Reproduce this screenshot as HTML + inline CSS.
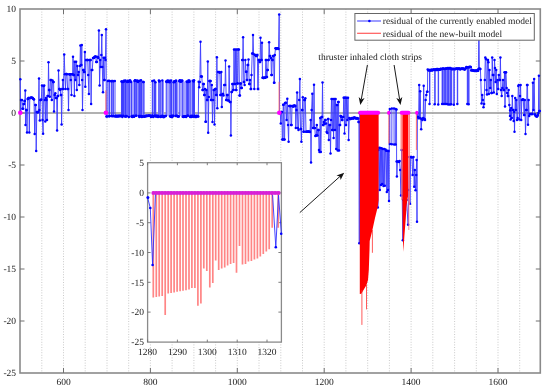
<!DOCTYPE html>
<html><head><meta charset="utf-8"><style>html,body{margin:0;padding:0;background:#fff;width:550px;height:391px;overflow:hidden}svg{display:block}text{text-rendering:geometricPrecision}</style></head>
<body>
<svg width="550" height="391" viewBox="0 0 550 391">
<rect width="550" height="391" fill="#fff"/>
<path d="M41.8 9.0V373.0M63.5 9.0V373.0M85.2 9.0V373.0M107 9.0V373.0M128.7 9.0V373.0M150.4 9.0V373.0M172.1 9.0V373.0M193.9 9.0V373.0M215.6 9.0V373.0M237.3 9.0V373.0M259 9.0V373.0M280.8 9.0V373.0M302.5 9.0V373.0M324.2 9.0V373.0M345.9 9.0V373.0M367.7 9.0V373.0M389.4 9.0V373.0M411.1 9.0V373.0M432.8 9.0V373.0M454.6 9.0V373.0M476.3 9.0V373.0M498 9.0V373.0M519.7 9.0V373.0" stroke="#bcbcbc" stroke-width="0.8" stroke-dasharray="1 1.6" fill="none"/>
<path d="M20.0 113.0H540.3" stroke="#979797" stroke-width="1.6"/>
<rect x="20.0" y="9.0" width="520.3" height="364.0" fill="none" stroke="#8a8a8a" stroke-width="1.6"/>
<path d="M63.5 373.0v-5M63.5 9.0v5M150.4 373.0v-5M150.4 9.0v5M237.3 373.0v-5M237.3 9.0v5M324.2 373.0v-5M324.2 9.0v5M411.1 373.0v-5M411.1 9.0v5M498 373.0v-5M498 9.0v5M20.0 61h4.5M540.3 61h-4.5M20.0 113h4.5M540.3 113h-4.5M20.0 165h4.5M540.3 165h-4.5M20.0 217h4.5M540.3 217h-4.5M20.0 269h4.5M540.3 269h-4.5M20.0 321h4.5M540.3 321h-4.5" stroke="#707070" stroke-width="1"/>
<g fill="#a4a4ff"><rect x="120.9" y="81.5" width="22.7" height="34.5"/><rect x="158" y="81.5" width="5.9" height="34.5"/><rect x="166.1" y="81.5" width="12.1" height="34.5"/><rect x="179.9" y="81.5" width="15.0" height="34.5"/></g>
<polyline points="20.3,79.2 20.6,111.8 21,100 22,100 22.4,108.8 23.1,108.8 23.5,104 24.1,104 24.5,101 24.9,101 25.3,90.4 25.5,124.9 26.2,110 26.6,110 27,132.5 27.6,99 28,99 28.4,98 28.9,98 29.3,132.5 29.8,98 30.6,98 31,97.5 31.8,97.5 32.2,98 32.8,98 33.2,99 33.6,99 34,99.6 34.7,134 35.3,105 35.8,105 36.2,150.9 36.8,112 37.3,112 37.7,112.6 38.3,112 39,78.5 39.4,110 39.8,120.5 40.4,100 40.9,100 41.3,99.5 42,85.6 42.5,120 43.1,133.7 43.6,86 44.2,85.6 44.8,100 45.3,121.4 45.9,98 46.5,100 47,120 47.5,96 48.1,96 48.5,62.2 49,90 49.4,90 49.8,96.8 50.5,80 51.2,80 51.8,100 52.5,80.5 53.2,82 53.6,82 54,111.4 54.6,95 55.3,93.2 55.9,98 56.7,98 57.1,130.5 57.6,96 58.1,96 58.5,70.4 59.2,89 59.8,89 60.2,90 60.8,95 61.2,95 61.6,124.6 62.2,89 62.9,80 63.5,89 64.2,54.6 64.9,74.3 65.5,89 66.2,74 66.6,74 67,74.3 67.6,89 68.1,89 68.5,110 69.2,74.3 69.6,74.3 70,74.3 70.4,74.3 70.8,80 71.5,95 71.9,74.3 72.6,74.3 73,56.7 73.6,75 74,75 74.4,95.9 74.7,61.7 75.4,80 76.1,61.7 76.8,90 77.4,66 78,75 78.7,72 79.3,85 80,66 80.4,45.5 81,65 81.4,65 81.8,45 82.1,80 82.5,110 83.2,70 83.6,70 84,72 84.5,72 84.9,52 85.3,86.8 86,60 87,60 87.4,60 87.8,60 88.2,75 88.9,94 89.5,60 90.2,60 90.7,60 91.1,104 91.6,70 92.3,70 93,58 94,58 94.4,57 94.8,57 95.2,56.5 95.8,56.5 96.2,62 96.9,62 97.3,57 97.9,57 98.3,58 98.9,30.6 99.6,85.6 100.2,60 100.8,67 101.3,55 101.8,35.1 102.3,67 103,92.3 103.6,57.7 104.2,80 104.6,80 105,57.7 105.5,60 106,29.2 106.4,116.5 107.2,116.5 107.8,116.5 107.8,81 108.8,80.8 109.1,80.8 109.1,116.3 109.4,116.3 109.6,116.3 109.6,81 111.1,81.2 111.3,81.2 111.3,116 111.6,116 111.8,116 111.8,80.9 112.7,81 112.9,81 112.9,116.2 113.2,116 113.4,116 113.4,81.3 114.8,81 115,81 115,116.4 115.4,116.1 115.8,115.8 116.3,116.6 116.7,115.7 117.1,116.4 117.6,116.1 118,115.7 118.4,116.4 118.9,115.7 119.3,116.3 119.7,115.7 120.2,115.7 120.6,116.2 121,115.8 121.5,115.8 121.5,81.6 121.9,81.5 122.4,81.5 122.4,117.1 122.8,117.1 122.8,82 123.2,82 123.2,115.8 123.7,115.8 123.7,80.9 124.1,80.7 124.5,81.6 125,81.6 125,116.4 125.4,116.4 125.4,80.4 125.8,80.4 125.8,116.6 126.3,116.1 126.7,116.3 127.1,116.3 127.1,81.9 127.6,80.8 128,81.4 128.4,81.8 128.9,81.8 128.9,117.1 129.3,117.1 129.3,81.1 129.7,80.6 130.2,80.4 130.6,81.8 131,82.1 131.5,82.1 131.5,116.6 131.9,116.5 132.3,116.9 132.8,116.3 133.2,115.7 133.6,116.6 134.1,116.8 134.5,116.8 134.5,81.1 135,80.3 135.4,80.6 135.8,80.6 135.8,115.7 136.3,115.8 136.7,115.8 136.7,81.1 137.1,80.5 137.6,81.4 138,81.9 138.4,80.9 138.9,80.9 138.9,116.1 139.3,117 139.7,117 139.7,80.7 140.2,80.7 140.2,116 140.6,116.5 141,116.5 141,80.3 141.5,80.3 141.5,116.2 141.9,117 142.3,116.4 142.8,116.6 143.2,116.6 143.2,82.1 143.6,82 144.1,82 144.1,116.8 144.5,116.2 144.9,116.2 145.4,115.8 145.8,116.6 146.2,115.7 146.7,115.7 147.1,115.9 147.6,115.8 148,116.1 148.4,115.7 148.9,115.6 149.3,115.8 149.7,115.8 150.2,116.1 150.6,115.6 151,116.9 151.5,116.5 151.9,115.8 152.3,115.8 152.3,81 152.8,81 152.8,115.8 153.2,117.1 153.6,116.3 154.1,116.3 154.1,80.5 154.5,80.5 154.5,116 154.9,115.8 155.4,115.8 155.4,82.2 155.8,82.2 155.8,116.4 156.2,115.8 156.7,116.4 157.1,115.6 157.5,116.4 158,116.9 158.4,116 158.9,116 158.9,80.6 159.3,81.4 159.7,81 160.2,81 160.2,116.8 160.6,116.9 161,116.8 161.5,115.9 161.9,116.1 162.3,116.1 162.3,80.4 162.8,80.4 162.8,116 163.2,117 163.6,117 164.1,117 164.5,116.1 164.9,115.9 165.4,115.9 165.8,115.9 166.2,115.9 166.2,81.5 166.7,82 167.1,81.6 167.5,80.5 168,82.1 168.4,81.8 168.8,80.7 169.3,81 169.7,82.2 170.1,82.2 170.1,116.2 170.6,116.7 171,116.7 171,80.6 171.5,80.6 171.5,117 171.9,115.8 172.3,117.1 172.8,116.1 173.2,115.8 173.6,115.8 173.6,82.2 174.1,81.4 174.5,81.2 174.9,82 175.4,82 175.4,116 175.8,116 175.8,80.8 176.2,80.8 176.7,80.8 176.7,115.8 177.1,116.1 177.5,116.5 178,116.2 178.4,116.4 178.8,116.4 179.3,116.4 179.3,81.2 179.7,80.3 180.1,80.6 180.6,81.8 181,81 181.4,81.4 181.9,80.5 182.3,80.8 182.7,80.8 182.7,116.8 183.2,116.4 183.6,117 184.1,116.5 184.5,116.4 184.9,116.3 185.4,116.3 185.8,116.6 186.2,117 186.7,117 186.7,81.4 187.1,82 187.5,82 187.5,115.8 188,115.7 188.4,115.7 188.4,80.4 188.8,81.9 189.3,80.6 189.7,81.6 190.1,81.6 190.1,116.9 190.6,115.9 191,116.2 191.4,117.1 191.9,115.8 192.3,116.4 192.7,116.4 192.7,80.7 193.2,80.7 193.2,116.7 193.6,116.7 193.6,81.4 194,80.3 194.5,80.3 194.5,116.5 194.9,115.7 195.3,117.1 195.8,116.8 196.2,117.1 196.7,115.8 197.1,116 197.8,116.5 198.3,116.5 198.7,81.8 199.2,87.3 199.8,82 200.5,41.8 201,76.4 201.4,76.4 201.8,76.4 202.5,90 202.9,90 203.3,84 203.8,84 204.2,95 204.6,95 205,89 205.5,121.8 205.9,121.8 206.3,90 207,100 207.4,100 207.8,61.5 208.2,132.7 208.8,97 209.4,81 209.8,81 210.2,80.9 210.6,80.9 211,100 211.4,100 211.8,85 212.5,122 213.1,100 213.7,90 214.1,90 214.5,124.5 215.2,89 215.6,89 216,95 216.5,95 216.9,57.3 217.3,108.2 218,72 219.1,72 219.5,72.5 219.9,72.5 220.3,95 220.9,95 221.3,72 221.8,107 222.5,94 223.1,94 223.5,95.5 224.2,85 225.1,85 225.5,60.4 226.2,100 226.6,100 227,95 227.6,95 228,100.5 228.7,100.5 229.1,66.4 229.8,102 230.5,102 230.9,135.5 231.5,92 231.9,92 232.3,84 232.8,84 233.2,90 233.6,90 234,49.5 234.6,84 235,84 235.4,49.5 236,90 236.4,90 236.8,49.5 237.4,83.6 237.8,83.6 238.2,49.5 238.9,49.5 239.5,95.5 239.9,95.5 240.3,83.6 240.8,83.6 241.2,88 241.8,88 242.2,60 242.7,60 243.1,37.3 243.8,82 244.2,82 244.6,85 245.3,60 246,71.8 246.4,71.8 246.8,80 247.2,80 247.6,65 248.1,65 248.5,59.6 249.2,84 249.6,84 250,80 250.6,89 251.1,89 251.5,75 252.2,53.6 252.6,53.6 253,34.9 253.6,54 254.3,89 255,55 255.6,55 256,56 256.6,56 257,55 257.4,55 257.8,89 258.2,89 258.6,60 259.2,60 259.6,62 260.1,62 260.5,37.8 261.2,60 261.6,60 262,42.7 262.5,77.7 262.9,77.7 263.3,78 263.8,78 264.2,77.7 264.6,77.7 265,77.7 265.4,77.7 265.8,60 266.2,60 266.6,77 267,77 267.4,70 267.8,70 268.2,60 268.7,60 269.1,42.2 269.8,56 270.2,56 270.6,58 271,58 271.4,75 271.8,75 272.2,60 272.6,60 273,56 273.6,56 274,82.7 274.4,82.7 274.8,55 275.5,48.2 275.9,48.2 276.3,49 277,48.2 277.4,48.2 277.8,48.2 278.5,49 279.2,14.4 279.6,113 280.3,113 280.8,123.6 281.5,112 281.9,112 282.3,139.4 282.8,139.4 283.2,104.7 283.6,104.7 284,139.4 284.6,139.4 285,103 285.5,103 285.9,102.7 286.6,120 287.3,98.7 288,125 288.6,141.8 289.2,106 289.8,106 290.2,106 290.6,106 291,125 291.6,125 292,106 292.6,106 293,106.5 293.6,106.5 294,105.5 294.6,105.5 295,106 295.4,106 295.8,128 296.5,110 297.1,92.5 297.8,128 298.5,130 299.2,100 299.9,78.9 300.5,129 301,129 301.4,141.8 302,110 302.4,110 302.8,97.2 303.5,131.8 303.9,131.8 304.3,100 304.9,100 305.3,98.2 306,131.8 306.6,131.8 307,131.8 307.6,131.8 308,131.5 308.6,131.5 309,131.8 309.6,131.8 310,132 310.6,120 311,162.4 311.6,110 312.3,93.8 313,128 313.6,128 314,84.8 314.5,128 314.9,128 315.3,136 316,135.5 316.4,135.5 316.8,125 317.5,135.5 318.2,130 318.6,130 319,150 319.5,152 320.2,118 320.8,152 321.5,117 322.1,117 322.5,82.6 323,125 323.4,125 323.8,122 324.5,124 325.2,120 325.6,120 326,123.5 326.6,132 327.3,133 328,119 328.4,119 328.8,140 329.5,125 330.1,125 330.5,153.6 331,120 331.5,99 332.2,130 332.6,130 333,99 333.6,138 334.3,99 335,130 335.6,99 336.2,149 336.8,105 337.3,105 337.7,150.5 338.2,102 338.6,102 339,150.5 339.6,125 340.1,125 340.5,116 340.9,116 341.3,117 342,120 342.4,120 342.8,117 343.3,117 343.7,97.7 344.1,97.7 344.5,133.6 345.2,97.7 345.6,97.7 346,125 346.6,97.7 347.3,120 348,97.8 348.6,140 349.3,118 350,119 350.6,119 351,118.5 351.6,118.5 352,118 352.6,118 353,118.5 353.6,118.5 354,117.5 354.6,117.5 355,118 355.6,118 356,118.5 356.6,118.5 357,118 357.7,118.5 358.1,118.5 358.5,122 358.9,122 359.3,243.3 359.6,113 360,113 377.6,113 377.8,207.5 378.4,150 379.2,147.8 379.8,190 380.4,148 381,185 381.6,148.3 382.2,184 382.8,149 383.5,186 384.2,149 384.8,185.8 385.5,149.5 386.2,150.8 386.8,192 387.4,150.8 388,190 388.6,151 389,201 389.4,113 389.8,109 389.9,144 391.8,144.3 391.9,108.6 394,108.4 394.1,144.5 395.6,144.5 395.7,109 396.5,109.5 396.6,161.5 396.9,176.5 397.4,161.5 398.2,161.5 399,162 399.6,161 400.2,170 401,195.6 401.6,150 402.8,240.3 403.5,200 405,210 406.5,200 408.1,224.7 408.8,190 409.4,157 410,203.7 410.6,157 411.3,157 412,157.5 412.6,175 413.5,157 414.2,186.7 414.8,170 415.5,190.3 416.2,175 416.6,160 417,221.8 417.4,113 418,117 418.6,118.3 419.2,85 419.6,118 420.2,91.3 420.7,118.5 421.2,129.2 421.8,119 422.5,120 423.2,118 423.7,85.8 424.2,119 424.6,119 425,120 425.6,100 426.3,95 427,91.7 427.5,91.7 427.7,69.5 428.2,69.9 428.6,70.6 429.1,70 429.5,70 429.5,104 429.9,104 429.9,70.1 430.4,70.5 430.8,70.4 431.2,69.8 431.7,69.7 432.1,70.4 432.5,70 433,70.1 433.4,69.4 433.8,69.4 434.3,70 434.7,70 434.7,104.2 435.2,104.2 435.2,69.3 435.6,70.1 436,69.7 436.5,69.9 436.9,69.1 437.3,69.9 437.8,69 438.2,69 438.2,104.6 438.6,104.6 438.6,69.3 439.1,69.2 439.5,69.4 439.9,69.7 440.4,69 440.8,68.8 441.2,69.2 441.7,68.9 442.1,68.9 442.1,104 442.5,104 442.5,68.7 443,68.5 443.4,68.7 443.8,68.7 443.8,104.1 444.3,104.1 444.3,68.7 444.7,69.1 445.1,69.1 445.1,104.1 445.6,104.1 445.6,68.8 446,68.4 446.4,68.5 446.9,68.5 446.9,103.9 447.3,103.9 447.3,68.4 447.8,68.1 448.2,68.1 448.2,104.5 448.6,104.5 448.6,68.5 449.1,68.1 449.5,68.4 449.9,68.4 449.9,104.6 450.4,104.6 450.4,67.9 450.8,68.6 451.2,68.6 451.2,104.2 451.7,104.2 451.7,68.9 452.1,69.2 452.5,68.8 453,68.9 453.4,69.1 453.8,69.1 453.8,104.7 454.3,104.7 454.3,68.7 454.7,69.2 455.1,69.1 455.6,69 456,68.8 456.4,68.7 456.9,68.5 457.3,68.5 457.3,104 457.7,104 457.7,68.5 458.2,69.1 458.6,68.7 459,68.6 459.5,68.5 459.9,69.2 460.4,69.3 460.8,69.1 461.2,68.7 461.7,68.6 462.1,68.7 462.5,68.9 463,68.6 463.4,68.8 463.8,68.7 464.3,69.4 464.7,69.4 465.1,68.9 465.6,68.6 466,67.8 466.4,67.1 466.9,67.2 467.3,67.2 467.3,103.9 467.7,103.9 467.7,67.2 468.2,67.3 468.6,67.3 468.6,104.3 469,104.3 469,67 469.5,67.3 469.9,66.8 470.3,67.1 470.8,66.9 471.2,66.9 471.2,70.5 471.7,70.1 472.1,70.1 472.5,70.4 473,70.3 473.4,70.7 473.8,70.6 474.3,70.9 474.7,70.8 475.1,70.8 475.6,71 476,70.5 476.4,70.4 476.9,71.1 477.3,70.2 477.7,70.8 478.2,70.7 478.4,69 478.9,20 479.4,68.5 480,69 480.4,69 480.8,80 481.5,103.4 482.2,95 482.8,100 483.5,107.2 484.1,104 484.8,80 485.3,57.6 485.9,59 486.5,90 487,94.5 487.6,60 488,60 488.4,62.2 488.9,94 489.5,70 490.2,88 490.8,80 491.4,93 491.8,93 492.2,57.6 492.8,75 493.4,75 493.8,92.6 494.5,60 495,68 495.6,82 496.2,70 496.8,94 497.5,80 498.2,89 498.8,75 499.5,80 500,80 500.4,57.6 501,90 501.7,96 502.3,88 503,80 503.6,90 504.1,90 504.5,72.2 505,106.4 505.5,72.5 506,72.2 506.6,88 507.2,93 507.8,96 508.2,96 508.6,90 509.3,105 510,116 510.2,110.3 510.6,119.5 511.2,108 511.8,118 512.3,96 512.8,110 513.3,110 513.7,121 514.2,112 514.5,131.7 515.2,98 515.8,110 516.3,100 517,120 517.6,118 518.3,86 518.8,85 519.4,119.5 520,96 520.6,85 521.2,120 521.8,100 522.5,99.5 522.9,99.5 523.3,99.5 524,115 524.4,115 524.8,100 525.5,134 526.2,110 526.6,110 527,85 527.5,85 528,124.8 528.6,100 529.2,116 529.8,114.1 530.5,114 531.2,114 531.6,114 532,114.1 532.5,114.1 532.9,82.7 533.5,110 534.1,79 534.8,114.5 535.2,114.5 535.6,116 536.1,116 536.5,116.4 537,116.4 537.4,116 537.9,115 538.4,113 538.9,75.7 539.3,111 539.8,111" fill="none" stroke="#3a3aff" stroke-width="0.9" stroke-linejoin="round"/>
<g fill="#0000ff"><circle cx="20.3" cy="79.2" r="1.25"/><circle cx="20.6" cy="111.8" r="1.25"/><circle cx="21" cy="100" r="1.25"/><circle cx="22" cy="100" r="1.25"/><circle cx="22.4" cy="108.8" r="1.25"/><circle cx="23.1" cy="108.8" r="1.25"/><circle cx="23.5" cy="104" r="1.25"/><circle cx="24.1" cy="104" r="1.25"/><circle cx="24.5" cy="101" r="1.25"/><circle cx="24.9" cy="101" r="1.25"/><circle cx="25.3" cy="90.4" r="1.25"/><circle cx="25.5" cy="124.9" r="1.25"/><circle cx="26.2" cy="110" r="1.25"/><circle cx="26.6" cy="110" r="1.25"/><circle cx="27" cy="132.5" r="1.25"/><circle cx="27.6" cy="99" r="1.25"/><circle cx="28" cy="99" r="1.25"/><circle cx="28.4" cy="98" r="1.25"/><circle cx="28.9" cy="98" r="1.25"/><circle cx="29.3" cy="132.5" r="1.25"/><circle cx="29.8" cy="98" r="1.25"/><circle cx="30.6" cy="98" r="1.25"/><circle cx="31" cy="97.5" r="1.25"/><circle cx="31.8" cy="97.5" r="1.25"/><circle cx="32.2" cy="98" r="1.25"/><circle cx="32.8" cy="98" r="1.25"/><circle cx="33.2" cy="99" r="1.25"/><circle cx="33.6" cy="99" r="1.25"/><circle cx="34" cy="99.6" r="1.25"/><circle cx="34.7" cy="134" r="1.25"/><circle cx="35.3" cy="105" r="1.25"/><circle cx="35.8" cy="105" r="1.25"/><circle cx="36.2" cy="150.9" r="1.25"/><circle cx="36.8" cy="112" r="1.25"/><circle cx="37.3" cy="112" r="1.25"/><circle cx="37.7" cy="112.6" r="1.25"/><circle cx="38.3" cy="112" r="1.25"/><circle cx="39" cy="78.5" r="1.25"/><circle cx="39.4" cy="110" r="1.25"/><circle cx="39.8" cy="120.5" r="1.25"/><circle cx="40.4" cy="100" r="1.25"/><circle cx="40.9" cy="100" r="1.25"/><circle cx="41.3" cy="99.5" r="1.25"/><circle cx="42" cy="85.6" r="1.25"/><circle cx="42.5" cy="120" r="1.25"/><circle cx="43.1" cy="133.7" r="1.25"/><circle cx="43.6" cy="86" r="1.25"/><circle cx="44.2" cy="85.6" r="1.25"/><circle cx="44.8" cy="100" r="1.25"/><circle cx="45.3" cy="121.4" r="1.25"/><circle cx="45.9" cy="98" r="1.25"/><circle cx="46.5" cy="100" r="1.25"/><circle cx="47" cy="120" r="1.25"/><circle cx="47.5" cy="96" r="1.25"/><circle cx="48.1" cy="96" r="1.25"/><circle cx="48.5" cy="62.2" r="1.25"/><circle cx="49" cy="90" r="1.25"/><circle cx="49.4" cy="90" r="1.25"/><circle cx="49.8" cy="96.8" r="1.25"/><circle cx="50.5" cy="80" r="1.25"/><circle cx="51.2" cy="80" r="1.25"/><circle cx="51.8" cy="100" r="1.25"/><circle cx="52.5" cy="80.5" r="1.25"/><circle cx="53.2" cy="82" r="1.25"/><circle cx="53.6" cy="82" r="1.25"/><circle cx="54" cy="111.4" r="1.25"/><circle cx="54.6" cy="95" r="1.25"/><circle cx="55.3" cy="93.2" r="1.25"/><circle cx="55.9" cy="98" r="1.25"/><circle cx="56.7" cy="98" r="1.25"/><circle cx="57.1" cy="130.5" r="1.25"/><circle cx="57.6" cy="96" r="1.25"/><circle cx="58.1" cy="96" r="1.25"/><circle cx="58.5" cy="70.4" r="1.25"/><circle cx="59.2" cy="89" r="1.25"/><circle cx="59.8" cy="89" r="1.25"/><circle cx="60.2" cy="90" r="1.25"/><circle cx="60.8" cy="95" r="1.25"/><circle cx="61.2" cy="95" r="1.25"/><circle cx="61.6" cy="124.6" r="1.25"/><circle cx="62.2" cy="89" r="1.25"/><circle cx="62.9" cy="80" r="1.25"/><circle cx="63.5" cy="89" r="1.25"/><circle cx="64.2" cy="54.6" r="1.25"/><circle cx="64.9" cy="74.3" r="1.25"/><circle cx="65.5" cy="89" r="1.25"/><circle cx="66.2" cy="74" r="1.25"/><circle cx="66.6" cy="74" r="1.25"/><circle cx="67" cy="74.3" r="1.25"/><circle cx="67.6" cy="89" r="1.25"/><circle cx="68.1" cy="89" r="1.25"/><circle cx="68.5" cy="110" r="1.25"/><circle cx="69.2" cy="74.3" r="1.25"/><circle cx="69.6" cy="74.3" r="1.25"/><circle cx="70" cy="74.3" r="1.25"/><circle cx="70.4" cy="74.3" r="1.25"/><circle cx="70.8" cy="80" r="1.25"/><circle cx="71.5" cy="95" r="1.25"/><circle cx="71.9" cy="74.3" r="1.25"/><circle cx="72.6" cy="74.3" r="1.25"/><circle cx="73" cy="56.7" r="1.25"/><circle cx="73.6" cy="75" r="1.25"/><circle cx="74" cy="75" r="1.25"/><circle cx="74.4" cy="95.9" r="1.25"/><circle cx="74.7" cy="61.7" r="1.25"/><circle cx="75.4" cy="80" r="1.25"/><circle cx="76.1" cy="61.7" r="1.25"/><circle cx="76.8" cy="90" r="1.25"/><circle cx="77.4" cy="66" r="1.25"/><circle cx="78" cy="75" r="1.25"/><circle cx="78.7" cy="72" r="1.25"/><circle cx="79.3" cy="85" r="1.25"/><circle cx="80" cy="66" r="1.25"/><circle cx="80.4" cy="45.5" r="1.25"/><circle cx="81" cy="65" r="1.25"/><circle cx="81.4" cy="65" r="1.25"/><circle cx="81.8" cy="45" r="1.25"/><circle cx="82.1" cy="80" r="1.25"/><circle cx="82.5" cy="110" r="1.25"/><circle cx="83.2" cy="70" r="1.25"/><circle cx="83.6" cy="70" r="1.25"/><circle cx="84" cy="72" r="1.25"/><circle cx="84.5" cy="72" r="1.25"/><circle cx="84.9" cy="52" r="1.25"/><circle cx="85.3" cy="86.8" r="1.25"/><circle cx="86" cy="60" r="1.25"/><circle cx="87" cy="60" r="1.25"/><circle cx="87.4" cy="60" r="1.25"/><circle cx="87.8" cy="60" r="1.25"/><circle cx="88.2" cy="75" r="1.25"/><circle cx="88.9" cy="94" r="1.25"/><circle cx="89.5" cy="60" r="1.25"/><circle cx="90.2" cy="60" r="1.25"/><circle cx="90.7" cy="60" r="1.25"/><circle cx="91.1" cy="104" r="1.25"/><circle cx="91.6" cy="70" r="1.25"/><circle cx="92.3" cy="70" r="1.25"/><circle cx="93" cy="58" r="1.25"/><circle cx="94" cy="58" r="1.25"/><circle cx="94.4" cy="57" r="1.25"/><circle cx="94.8" cy="57" r="1.25"/><circle cx="95.2" cy="56.5" r="1.25"/><circle cx="95.8" cy="56.5" r="1.25"/><circle cx="96.2" cy="62" r="1.25"/><circle cx="96.9" cy="62" r="1.25"/><circle cx="97.3" cy="57" r="1.25"/><circle cx="97.9" cy="57" r="1.25"/><circle cx="98.3" cy="58" r="1.25"/><circle cx="98.9" cy="30.6" r="1.25"/><circle cx="99.6" cy="85.6" r="1.25"/><circle cx="100.2" cy="60" r="1.25"/><circle cx="100.8" cy="67" r="1.25"/><circle cx="101.3" cy="55" r="1.25"/><circle cx="101.8" cy="35.1" r="1.25"/><circle cx="102.3" cy="67" r="1.25"/><circle cx="103" cy="92.3" r="1.25"/><circle cx="103.6" cy="57.7" r="1.25"/><circle cx="104.2" cy="80" r="1.25"/><circle cx="104.6" cy="80" r="1.25"/><circle cx="105" cy="57.7" r="1.25"/><circle cx="105.5" cy="60" r="1.25"/><circle cx="106" cy="29.2" r="1.25"/><circle cx="106.4" cy="116.5" r="1.25"/><circle cx="107.2" cy="116.5" r="1.25"/><circle cx="107.8" cy="81" r="1.25"/><circle cx="108.8" cy="80.8" r="1.25"/><circle cx="109.1" cy="116.3" r="1.25"/><circle cx="109.4" cy="116.3" r="1.25"/><circle cx="109.6" cy="81" r="1.25"/><circle cx="111.1" cy="81.2" r="1.25"/><circle cx="111.3" cy="116" r="1.25"/><circle cx="111.6" cy="116" r="1.25"/><circle cx="111.8" cy="80.9" r="1.25"/><circle cx="112.7" cy="81" r="1.25"/><circle cx="112.9" cy="116.2" r="1.25"/><circle cx="113.2" cy="116" r="1.25"/><circle cx="113.4" cy="81.3" r="1.25"/><circle cx="114.8" cy="81" r="1.25"/><circle cx="115" cy="116.4" r="1.25"/><circle cx="115.4" cy="116.1" r="1.25"/><circle cx="115.8" cy="115.8" r="1.25"/><circle cx="116.3" cy="116.6" r="1.25"/><circle cx="116.7" cy="115.7" r="1.25"/><circle cx="117.1" cy="116.4" r="1.25"/><circle cx="117.6" cy="116.1" r="1.25"/><circle cx="118" cy="115.7" r="1.25"/><circle cx="118.4" cy="116.4" r="1.25"/><circle cx="118.9" cy="115.7" r="1.25"/><circle cx="119.3" cy="116.3" r="1.25"/><circle cx="119.7" cy="115.7" r="1.25"/><circle cx="120.2" cy="115.7" r="1.25"/><circle cx="120.6" cy="116.2" r="1.25"/><circle cx="121" cy="115.8" r="1.25"/><circle cx="121.5" cy="81.6" r="1.25"/><circle cx="121.9" cy="81.5" r="1.25"/><circle cx="122.4" cy="117.1" r="1.25"/><circle cx="122.8" cy="82" r="1.25"/><circle cx="123.2" cy="115.8" r="1.25"/><circle cx="123.7" cy="80.9" r="1.25"/><circle cx="124.1" cy="80.7" r="1.25"/><circle cx="124.5" cy="81.6" r="1.25"/><circle cx="125" cy="116.4" r="1.25"/><circle cx="125.4" cy="80.4" r="1.25"/><circle cx="125.8" cy="116.6" r="1.25"/><circle cx="126.3" cy="116.1" r="1.25"/><circle cx="126.7" cy="116.3" r="1.25"/><circle cx="127.1" cy="81.9" r="1.25"/><circle cx="127.6" cy="80.8" r="1.25"/><circle cx="128" cy="81.4" r="1.25"/><circle cx="128.4" cy="81.8" r="1.25"/><circle cx="128.9" cy="117.1" r="1.25"/><circle cx="129.3" cy="81.1" r="1.25"/><circle cx="129.7" cy="80.6" r="1.25"/><circle cx="130.2" cy="80.4" r="1.25"/><circle cx="130.6" cy="81.8" r="1.25"/><circle cx="131" cy="82.1" r="1.25"/><circle cx="131.5" cy="116.6" r="1.25"/><circle cx="131.9" cy="116.5" r="1.25"/><circle cx="132.3" cy="116.9" r="1.25"/><circle cx="132.8" cy="116.3" r="1.25"/><circle cx="133.2" cy="115.7" r="1.25"/><circle cx="133.6" cy="116.6" r="1.25"/><circle cx="134.1" cy="116.8" r="1.25"/><circle cx="134.5" cy="81.1" r="1.25"/><circle cx="135" cy="80.3" r="1.25"/><circle cx="135.4" cy="80.6" r="1.25"/><circle cx="135.8" cy="115.7" r="1.25"/><circle cx="136.3" cy="115.8" r="1.25"/><circle cx="136.7" cy="81.1" r="1.25"/><circle cx="137.1" cy="80.5" r="1.25"/><circle cx="137.6" cy="81.4" r="1.25"/><circle cx="138" cy="81.9" r="1.25"/><circle cx="138.4" cy="80.9" r="1.25"/><circle cx="138.9" cy="116.1" r="1.25"/><circle cx="139.3" cy="117" r="1.25"/><circle cx="139.7" cy="80.7" r="1.25"/><circle cx="140.2" cy="116" r="1.25"/><circle cx="140.6" cy="116.5" r="1.25"/><circle cx="141" cy="80.3" r="1.25"/><circle cx="141.5" cy="116.2" r="1.25"/><circle cx="141.9" cy="117" r="1.25"/><circle cx="142.3" cy="116.4" r="1.25"/><circle cx="142.8" cy="116.6" r="1.25"/><circle cx="143.2" cy="82.1" r="1.25"/><circle cx="143.6" cy="82" r="1.25"/><circle cx="144.1" cy="116.8" r="1.25"/><circle cx="144.5" cy="116.2" r="1.25"/><circle cx="144.9" cy="116.2" r="1.25"/><circle cx="145.4" cy="115.8" r="1.25"/><circle cx="145.8" cy="116.6" r="1.25"/><circle cx="146.2" cy="115.7" r="1.25"/><circle cx="146.7" cy="115.7" r="1.25"/><circle cx="147.1" cy="115.9" r="1.25"/><circle cx="147.6" cy="115.8" r="1.25"/><circle cx="148" cy="116.1" r="1.25"/><circle cx="148.4" cy="115.7" r="1.25"/><circle cx="148.9" cy="115.6" r="1.25"/><circle cx="149.3" cy="115.8" r="1.25"/><circle cx="149.7" cy="115.8" r="1.25"/><circle cx="150.2" cy="116.1" r="1.25"/><circle cx="150.6" cy="115.6" r="1.25"/><circle cx="151" cy="116.9" r="1.25"/><circle cx="151.5" cy="116.5" r="1.25"/><circle cx="151.9" cy="115.8" r="1.25"/><circle cx="152.3" cy="81" r="1.25"/><circle cx="152.8" cy="115.8" r="1.25"/><circle cx="153.2" cy="117.1" r="1.25"/><circle cx="153.6" cy="116.3" r="1.25"/><circle cx="154.1" cy="80.5" r="1.25"/><circle cx="154.5" cy="116" r="1.25"/><circle cx="154.9" cy="115.8" r="1.25"/><circle cx="155.4" cy="82.2" r="1.25"/><circle cx="155.8" cy="116.4" r="1.25"/><circle cx="156.2" cy="115.8" r="1.25"/><circle cx="156.7" cy="116.4" r="1.25"/><circle cx="157.1" cy="115.6" r="1.25"/><circle cx="157.5" cy="116.4" r="1.25"/><circle cx="158" cy="116.9" r="1.25"/><circle cx="158.4" cy="116" r="1.25"/><circle cx="158.9" cy="80.6" r="1.25"/><circle cx="159.3" cy="81.4" r="1.25"/><circle cx="159.7" cy="81" r="1.25"/><circle cx="160.2" cy="116.8" r="1.25"/><circle cx="160.6" cy="116.9" r="1.25"/><circle cx="161" cy="116.8" r="1.25"/><circle cx="161.5" cy="115.9" r="1.25"/><circle cx="161.9" cy="116.1" r="1.25"/><circle cx="162.3" cy="80.4" r="1.25"/><circle cx="162.8" cy="116" r="1.25"/><circle cx="163.2" cy="117" r="1.25"/><circle cx="163.6" cy="117" r="1.25"/><circle cx="164.1" cy="117" r="1.25"/><circle cx="164.5" cy="116.1" r="1.25"/><circle cx="164.9" cy="115.9" r="1.25"/><circle cx="165.4" cy="115.9" r="1.25"/><circle cx="165.8" cy="115.9" r="1.25"/><circle cx="166.2" cy="81.5" r="1.25"/><circle cx="166.7" cy="82" r="1.25"/><circle cx="167.1" cy="81.6" r="1.25"/><circle cx="167.5" cy="80.5" r="1.25"/><circle cx="168" cy="82.1" r="1.25"/><circle cx="168.4" cy="81.8" r="1.25"/><circle cx="168.8" cy="80.7" r="1.25"/><circle cx="169.3" cy="81" r="1.25"/><circle cx="169.7" cy="82.2" r="1.25"/><circle cx="170.1" cy="116.2" r="1.25"/><circle cx="170.6" cy="116.7" r="1.25"/><circle cx="171" cy="80.6" r="1.25"/><circle cx="171.5" cy="117" r="1.25"/><circle cx="171.9" cy="115.8" r="1.25"/><circle cx="172.3" cy="117.1" r="1.25"/><circle cx="172.8" cy="116.1" r="1.25"/><circle cx="173.2" cy="115.8" r="1.25"/><circle cx="173.6" cy="82.2" r="1.25"/><circle cx="174.1" cy="81.4" r="1.25"/><circle cx="174.5" cy="81.2" r="1.25"/><circle cx="174.9" cy="82" r="1.25"/><circle cx="175.4" cy="116" r="1.25"/><circle cx="175.8" cy="80.8" r="1.25"/><circle cx="176.2" cy="80.8" r="1.25"/><circle cx="176.7" cy="115.8" r="1.25"/><circle cx="177.1" cy="116.1" r="1.25"/><circle cx="177.5" cy="116.5" r="1.25"/><circle cx="178" cy="116.2" r="1.25"/><circle cx="178.4" cy="116.4" r="1.25"/><circle cx="178.8" cy="116.4" r="1.25"/><circle cx="179.3" cy="81.2" r="1.25"/><circle cx="179.7" cy="80.3" r="1.25"/><circle cx="180.1" cy="80.6" r="1.25"/><circle cx="180.6" cy="81.8" r="1.25"/><circle cx="181" cy="81" r="1.25"/><circle cx="181.4" cy="81.4" r="1.25"/><circle cx="181.9" cy="80.5" r="1.25"/><circle cx="182.3" cy="80.8" r="1.25"/><circle cx="182.7" cy="116.8" r="1.25"/><circle cx="183.2" cy="116.4" r="1.25"/><circle cx="183.6" cy="117" r="1.25"/><circle cx="184.1" cy="116.5" r="1.25"/><circle cx="184.5" cy="116.4" r="1.25"/><circle cx="184.9" cy="116.3" r="1.25"/><circle cx="185.4" cy="116.3" r="1.25"/><circle cx="185.8" cy="116.6" r="1.25"/><circle cx="186.2" cy="117" r="1.25"/><circle cx="186.7" cy="81.4" r="1.25"/><circle cx="187.1" cy="82" r="1.25"/><circle cx="187.5" cy="115.8" r="1.25"/><circle cx="188" cy="115.7" r="1.25"/><circle cx="188.4" cy="80.4" r="1.25"/><circle cx="188.8" cy="81.9" r="1.25"/><circle cx="189.3" cy="80.6" r="1.25"/><circle cx="189.7" cy="81.6" r="1.25"/><circle cx="190.1" cy="116.9" r="1.25"/><circle cx="190.6" cy="115.9" r="1.25"/><circle cx="191" cy="116.2" r="1.25"/><circle cx="191.4" cy="117.1" r="1.25"/><circle cx="191.9" cy="115.8" r="1.25"/><circle cx="192.3" cy="116.4" r="1.25"/><circle cx="192.7" cy="80.7" r="1.25"/><circle cx="193.2" cy="116.7" r="1.25"/><circle cx="193.6" cy="81.4" r="1.25"/><circle cx="194" cy="80.3" r="1.25"/><circle cx="194.5" cy="116.5" r="1.25"/><circle cx="194.9" cy="115.7" r="1.25"/><circle cx="195.3" cy="117.1" r="1.25"/><circle cx="195.8" cy="116.8" r="1.25"/><circle cx="196.2" cy="117.1" r="1.25"/><circle cx="196.7" cy="115.8" r="1.25"/><circle cx="197.1" cy="116" r="1.25"/><circle cx="197.8" cy="116.5" r="1.25"/><circle cx="198.3" cy="116.5" r="1.25"/><circle cx="198.7" cy="81.8" r="1.25"/><circle cx="199.2" cy="87.3" r="1.25"/><circle cx="199.8" cy="82" r="1.25"/><circle cx="200.5" cy="41.8" r="1.25"/><circle cx="201" cy="76.4" r="1.25"/><circle cx="201.4" cy="76.4" r="1.25"/><circle cx="201.8" cy="76.4" r="1.25"/><circle cx="202.5" cy="90" r="1.25"/><circle cx="202.9" cy="90" r="1.25"/><circle cx="203.3" cy="84" r="1.25"/><circle cx="203.8" cy="84" r="1.25"/><circle cx="204.2" cy="95" r="1.25"/><circle cx="204.6" cy="95" r="1.25"/><circle cx="205" cy="89" r="1.25"/><circle cx="205.5" cy="121.8" r="1.25"/><circle cx="205.9" cy="121.8" r="1.25"/><circle cx="206.3" cy="90" r="1.25"/><circle cx="207" cy="100" r="1.25"/><circle cx="207.4" cy="100" r="1.25"/><circle cx="207.8" cy="61.5" r="1.25"/><circle cx="208.2" cy="132.7" r="1.25"/><circle cx="208.8" cy="97" r="1.25"/><circle cx="209.4" cy="81" r="1.25"/><circle cx="209.8" cy="81" r="1.25"/><circle cx="210.2" cy="80.9" r="1.25"/><circle cx="210.6" cy="80.9" r="1.25"/><circle cx="211" cy="100" r="1.25"/><circle cx="211.4" cy="100" r="1.25"/><circle cx="211.8" cy="85" r="1.25"/><circle cx="212.5" cy="122" r="1.25"/><circle cx="213.1" cy="100" r="1.25"/><circle cx="213.7" cy="90" r="1.25"/><circle cx="214.1" cy="90" r="1.25"/><circle cx="214.5" cy="124.5" r="1.25"/><circle cx="215.2" cy="89" r="1.25"/><circle cx="215.6" cy="89" r="1.25"/><circle cx="216" cy="95" r="1.25"/><circle cx="216.5" cy="95" r="1.25"/><circle cx="216.9" cy="57.3" r="1.25"/><circle cx="217.3" cy="108.2" r="1.25"/><circle cx="218" cy="72" r="1.25"/><circle cx="219.1" cy="72" r="1.25"/><circle cx="219.5" cy="72.5" r="1.25"/><circle cx="219.9" cy="72.5" r="1.25"/><circle cx="220.3" cy="95" r="1.25"/><circle cx="220.9" cy="95" r="1.25"/><circle cx="221.3" cy="72" r="1.25"/><circle cx="221.8" cy="107" r="1.25"/><circle cx="222.5" cy="94" r="1.25"/><circle cx="223.1" cy="94" r="1.25"/><circle cx="223.5" cy="95.5" r="1.25"/><circle cx="224.2" cy="85" r="1.25"/><circle cx="225.1" cy="85" r="1.25"/><circle cx="225.5" cy="60.4" r="1.25"/><circle cx="226.2" cy="100" r="1.25"/><circle cx="226.6" cy="100" r="1.25"/><circle cx="227" cy="95" r="1.25"/><circle cx="227.6" cy="95" r="1.25"/><circle cx="228" cy="100.5" r="1.25"/><circle cx="228.7" cy="100.5" r="1.25"/><circle cx="229.1" cy="66.4" r="1.25"/><circle cx="229.8" cy="102" r="1.25"/><circle cx="230.5" cy="102" r="1.25"/><circle cx="230.9" cy="135.5" r="1.25"/><circle cx="231.5" cy="92" r="1.25"/><circle cx="231.9" cy="92" r="1.25"/><circle cx="232.3" cy="84" r="1.25"/><circle cx="232.8" cy="84" r="1.25"/><circle cx="233.2" cy="90" r="1.25"/><circle cx="233.6" cy="90" r="1.25"/><circle cx="234" cy="49.5" r="1.25"/><circle cx="234.6" cy="84" r="1.25"/><circle cx="235" cy="84" r="1.25"/><circle cx="235.4" cy="49.5" r="1.25"/><circle cx="236" cy="90" r="1.25"/><circle cx="236.4" cy="90" r="1.25"/><circle cx="236.8" cy="49.5" r="1.25"/><circle cx="237.4" cy="83.6" r="1.25"/><circle cx="237.8" cy="83.6" r="1.25"/><circle cx="238.2" cy="49.5" r="1.25"/><circle cx="238.9" cy="49.5" r="1.25"/><circle cx="239.5" cy="95.5" r="1.25"/><circle cx="239.9" cy="95.5" r="1.25"/><circle cx="240.3" cy="83.6" r="1.25"/><circle cx="240.8" cy="83.6" r="1.25"/><circle cx="241.2" cy="88" r="1.25"/><circle cx="241.8" cy="88" r="1.25"/><circle cx="242.2" cy="60" r="1.25"/><circle cx="242.7" cy="60" r="1.25"/><circle cx="243.1" cy="37.3" r="1.25"/><circle cx="243.8" cy="82" r="1.25"/><circle cx="244.2" cy="82" r="1.25"/><circle cx="244.6" cy="85" r="1.25"/><circle cx="245.3" cy="60" r="1.25"/><circle cx="246" cy="71.8" r="1.25"/><circle cx="246.4" cy="71.8" r="1.25"/><circle cx="246.8" cy="80" r="1.25"/><circle cx="247.2" cy="80" r="1.25"/><circle cx="247.6" cy="65" r="1.25"/><circle cx="248.1" cy="65" r="1.25"/><circle cx="248.5" cy="59.6" r="1.25"/><circle cx="249.2" cy="84" r="1.25"/><circle cx="249.6" cy="84" r="1.25"/><circle cx="250" cy="80" r="1.25"/><circle cx="250.6" cy="89" r="1.25"/><circle cx="251.1" cy="89" r="1.25"/><circle cx="251.5" cy="75" r="1.25"/><circle cx="252.2" cy="53.6" r="1.25"/><circle cx="252.6" cy="53.6" r="1.25"/><circle cx="253" cy="34.9" r="1.25"/><circle cx="253.6" cy="54" r="1.25"/><circle cx="254.3" cy="89" r="1.25"/><circle cx="255" cy="55" r="1.25"/><circle cx="255.6" cy="55" r="1.25"/><circle cx="256" cy="56" r="1.25"/><circle cx="256.6" cy="56" r="1.25"/><circle cx="257" cy="55" r="1.25"/><circle cx="257.4" cy="55" r="1.25"/><circle cx="257.8" cy="89" r="1.25"/><circle cx="258.2" cy="89" r="1.25"/><circle cx="258.6" cy="60" r="1.25"/><circle cx="259.2" cy="60" r="1.25"/><circle cx="259.6" cy="62" r="1.25"/><circle cx="260.1" cy="62" r="1.25"/><circle cx="260.5" cy="37.8" r="1.25"/><circle cx="261.2" cy="60" r="1.25"/><circle cx="261.6" cy="60" r="1.25"/><circle cx="262" cy="42.7" r="1.25"/><circle cx="262.5" cy="77.7" r="1.25"/><circle cx="262.9" cy="77.7" r="1.25"/><circle cx="263.3" cy="78" r="1.25"/><circle cx="263.8" cy="78" r="1.25"/><circle cx="264.2" cy="77.7" r="1.25"/><circle cx="264.6" cy="77.7" r="1.25"/><circle cx="265" cy="77.7" r="1.25"/><circle cx="265.4" cy="77.7" r="1.25"/><circle cx="265.8" cy="60" r="1.25"/><circle cx="266.2" cy="60" r="1.25"/><circle cx="266.6" cy="77" r="1.25"/><circle cx="267" cy="77" r="1.25"/><circle cx="267.4" cy="70" r="1.25"/><circle cx="267.8" cy="70" r="1.25"/><circle cx="268.2" cy="60" r="1.25"/><circle cx="268.7" cy="60" r="1.25"/><circle cx="269.1" cy="42.2" r="1.25"/><circle cx="269.8" cy="56" r="1.25"/><circle cx="270.2" cy="56" r="1.25"/><circle cx="270.6" cy="58" r="1.25"/><circle cx="271" cy="58" r="1.25"/><circle cx="271.4" cy="75" r="1.25"/><circle cx="271.8" cy="75" r="1.25"/><circle cx="272.2" cy="60" r="1.25"/><circle cx="272.6" cy="60" r="1.25"/><circle cx="273" cy="56" r="1.25"/><circle cx="273.6" cy="56" r="1.25"/><circle cx="274" cy="82.7" r="1.25"/><circle cx="274.4" cy="82.7" r="1.25"/><circle cx="274.8" cy="55" r="1.25"/><circle cx="275.5" cy="48.2" r="1.25"/><circle cx="275.9" cy="48.2" r="1.25"/><circle cx="276.3" cy="49" r="1.25"/><circle cx="277" cy="48.2" r="1.25"/><circle cx="277.4" cy="48.2" r="1.25"/><circle cx="277.8" cy="48.2" r="1.25"/><circle cx="278.5" cy="49" r="1.25"/><circle cx="279.2" cy="14.4" r="1.25"/><circle cx="279.6" cy="113" r="1.25"/><circle cx="280.3" cy="113" r="1.25"/><circle cx="280.8" cy="123.6" r="1.25"/><circle cx="281.5" cy="112" r="1.25"/><circle cx="281.9" cy="112" r="1.25"/><circle cx="282.3" cy="139.4" r="1.25"/><circle cx="282.8" cy="139.4" r="1.25"/><circle cx="283.2" cy="104.7" r="1.25"/><circle cx="283.6" cy="104.7" r="1.25"/><circle cx="284" cy="139.4" r="1.25"/><circle cx="284.6" cy="139.4" r="1.25"/><circle cx="285" cy="103" r="1.25"/><circle cx="285.5" cy="103" r="1.25"/><circle cx="285.9" cy="102.7" r="1.25"/><circle cx="286.6" cy="120" r="1.25"/><circle cx="287.3" cy="98.7" r="1.25"/><circle cx="288" cy="125" r="1.25"/><circle cx="288.6" cy="141.8" r="1.25"/><circle cx="289.2" cy="106" r="1.25"/><circle cx="289.8" cy="106" r="1.25"/><circle cx="290.2" cy="106" r="1.25"/><circle cx="290.6" cy="106" r="1.25"/><circle cx="291" cy="125" r="1.25"/><circle cx="291.6" cy="125" r="1.25"/><circle cx="292" cy="106" r="1.25"/><circle cx="292.6" cy="106" r="1.25"/><circle cx="293" cy="106.5" r="1.25"/><circle cx="293.6" cy="106.5" r="1.25"/><circle cx="294" cy="105.5" r="1.25"/><circle cx="294.6" cy="105.5" r="1.25"/><circle cx="295" cy="106" r="1.25"/><circle cx="295.4" cy="106" r="1.25"/><circle cx="295.8" cy="128" r="1.25"/><circle cx="296.5" cy="110" r="1.25"/><circle cx="297.1" cy="92.5" r="1.25"/><circle cx="297.8" cy="128" r="1.25"/><circle cx="298.5" cy="130" r="1.25"/><circle cx="299.2" cy="100" r="1.25"/><circle cx="299.9" cy="78.9" r="1.25"/><circle cx="300.5" cy="129" r="1.25"/><circle cx="301" cy="129" r="1.25"/><circle cx="301.4" cy="141.8" r="1.25"/><circle cx="302" cy="110" r="1.25"/><circle cx="302.4" cy="110" r="1.25"/><circle cx="302.8" cy="97.2" r="1.25"/><circle cx="303.5" cy="131.8" r="1.25"/><circle cx="303.9" cy="131.8" r="1.25"/><circle cx="304.3" cy="100" r="1.25"/><circle cx="304.9" cy="100" r="1.25"/><circle cx="305.3" cy="98.2" r="1.25"/><circle cx="306" cy="131.8" r="1.25"/><circle cx="306.6" cy="131.8" r="1.25"/><circle cx="307" cy="131.8" r="1.25"/><circle cx="307.6" cy="131.8" r="1.25"/><circle cx="308" cy="131.5" r="1.25"/><circle cx="308.6" cy="131.5" r="1.25"/><circle cx="309" cy="131.8" r="1.25"/><circle cx="309.6" cy="131.8" r="1.25"/><circle cx="310" cy="132" r="1.25"/><circle cx="310.6" cy="120" r="1.25"/><circle cx="311" cy="162.4" r="1.25"/><circle cx="311.6" cy="110" r="1.25"/><circle cx="312.3" cy="93.8" r="1.25"/><circle cx="313" cy="128" r="1.25"/><circle cx="313.6" cy="128" r="1.25"/><circle cx="314" cy="84.8" r="1.25"/><circle cx="314.5" cy="128" r="1.25"/><circle cx="314.9" cy="128" r="1.25"/><circle cx="315.3" cy="136" r="1.25"/><circle cx="316" cy="135.5" r="1.25"/><circle cx="316.4" cy="135.5" r="1.25"/><circle cx="316.8" cy="125" r="1.25"/><circle cx="317.5" cy="135.5" r="1.25"/><circle cx="318.2" cy="130" r="1.25"/><circle cx="318.6" cy="130" r="1.25"/><circle cx="319" cy="150" r="1.25"/><circle cx="319.5" cy="152" r="1.25"/><circle cx="320.2" cy="118" r="1.25"/><circle cx="320.8" cy="152" r="1.25"/><circle cx="321.5" cy="117" r="1.25"/><circle cx="322.1" cy="117" r="1.25"/><circle cx="322.5" cy="82.6" r="1.25"/><circle cx="323" cy="125" r="1.25"/><circle cx="323.4" cy="125" r="1.25"/><circle cx="323.8" cy="122" r="1.25"/><circle cx="324.5" cy="124" r="1.25"/><circle cx="325.2" cy="120" r="1.25"/><circle cx="325.6" cy="120" r="1.25"/><circle cx="326" cy="123.5" r="1.25"/><circle cx="326.6" cy="132" r="1.25"/><circle cx="327.3" cy="133" r="1.25"/><circle cx="328" cy="119" r="1.25"/><circle cx="328.4" cy="119" r="1.25"/><circle cx="328.8" cy="140" r="1.25"/><circle cx="329.5" cy="125" r="1.25"/><circle cx="330.1" cy="125" r="1.25"/><circle cx="330.5" cy="153.6" r="1.25"/><circle cx="331" cy="120" r="1.25"/><circle cx="331.5" cy="99" r="1.25"/><circle cx="332.2" cy="130" r="1.25"/><circle cx="332.6" cy="130" r="1.25"/><circle cx="333" cy="99" r="1.25"/><circle cx="333.6" cy="138" r="1.25"/><circle cx="334.3" cy="99" r="1.25"/><circle cx="335" cy="130" r="1.25"/><circle cx="335.6" cy="99" r="1.25"/><circle cx="336.2" cy="149" r="1.25"/><circle cx="336.8" cy="105" r="1.25"/><circle cx="337.3" cy="105" r="1.25"/><circle cx="337.7" cy="150.5" r="1.25"/><circle cx="338.2" cy="102" r="1.25"/><circle cx="338.6" cy="102" r="1.25"/><circle cx="339" cy="150.5" r="1.25"/><circle cx="339.6" cy="125" r="1.25"/><circle cx="340.1" cy="125" r="1.25"/><circle cx="340.5" cy="116" r="1.25"/><circle cx="340.9" cy="116" r="1.25"/><circle cx="341.3" cy="117" r="1.25"/><circle cx="342" cy="120" r="1.25"/><circle cx="342.4" cy="120" r="1.25"/><circle cx="342.8" cy="117" r="1.25"/><circle cx="343.3" cy="117" r="1.25"/><circle cx="343.7" cy="97.7" r="1.25"/><circle cx="344.1" cy="97.7" r="1.25"/><circle cx="344.5" cy="133.6" r="1.25"/><circle cx="345.2" cy="97.7" r="1.25"/><circle cx="345.6" cy="97.7" r="1.25"/><circle cx="346" cy="125" r="1.25"/><circle cx="346.6" cy="97.7" r="1.25"/><circle cx="347.3" cy="120" r="1.25"/><circle cx="348" cy="97.8" r="1.25"/><circle cx="348.6" cy="140" r="1.25"/><circle cx="349.3" cy="118" r="1.25"/><circle cx="350" cy="119" r="1.25"/><circle cx="350.6" cy="119" r="1.25"/><circle cx="351" cy="118.5" r="1.25"/><circle cx="351.6" cy="118.5" r="1.25"/><circle cx="352" cy="118" r="1.25"/><circle cx="352.6" cy="118" r="1.25"/><circle cx="353" cy="118.5" r="1.25"/><circle cx="353.6" cy="118.5" r="1.25"/><circle cx="354" cy="117.5" r="1.25"/><circle cx="354.6" cy="117.5" r="1.25"/><circle cx="355" cy="118" r="1.25"/><circle cx="355.6" cy="118" r="1.25"/><circle cx="356" cy="118.5" r="1.25"/><circle cx="356.6" cy="118.5" r="1.25"/><circle cx="357" cy="118" r="1.25"/><circle cx="357.7" cy="118.5" r="1.25"/><circle cx="358.1" cy="118.5" r="1.25"/><circle cx="358.5" cy="122" r="1.25"/><circle cx="358.9" cy="122" r="1.25"/><circle cx="359.3" cy="243.3" r="1.25"/><circle cx="359.6" cy="113" r="1.25"/><circle cx="360" cy="113" r="1.25"/><circle cx="377.6" cy="113" r="1.25"/><circle cx="377.8" cy="207.5" r="1.25"/><circle cx="378.4" cy="150" r="1.25"/><circle cx="379.2" cy="147.8" r="1.25"/><circle cx="379.8" cy="190" r="1.25"/><circle cx="380.4" cy="148" r="1.25"/><circle cx="381" cy="185" r="1.25"/><circle cx="381.6" cy="148.3" r="1.25"/><circle cx="382.2" cy="184" r="1.25"/><circle cx="382.8" cy="149" r="1.25"/><circle cx="383.5" cy="186" r="1.25"/><circle cx="384.2" cy="149" r="1.25"/><circle cx="384.8" cy="185.8" r="1.25"/><circle cx="385.5" cy="149.5" r="1.25"/><circle cx="386.2" cy="150.8" r="1.25"/><circle cx="386.8" cy="192" r="1.25"/><circle cx="387.4" cy="150.8" r="1.25"/><circle cx="388" cy="190" r="1.25"/><circle cx="388.6" cy="151" r="1.25"/><circle cx="389" cy="201" r="1.25"/><circle cx="389.4" cy="113" r="1.25"/><circle cx="389.8" cy="109" r="1.25"/><circle cx="389.9" cy="144" r="1.25"/><circle cx="391.8" cy="144.3" r="1.25"/><circle cx="391.9" cy="108.6" r="1.25"/><circle cx="394" cy="108.4" r="1.25"/><circle cx="394.1" cy="144.5" r="1.25"/><circle cx="395.6" cy="144.5" r="1.25"/><circle cx="395.7" cy="109" r="1.25"/><circle cx="396.5" cy="109.5" r="1.25"/><circle cx="396.6" cy="161.5" r="1.25"/><circle cx="396.9" cy="176.5" r="1.25"/><circle cx="397.4" cy="161.5" r="1.25"/><circle cx="398.2" cy="161.5" r="1.25"/><circle cx="399" cy="162" r="1.25"/><circle cx="399.6" cy="161" r="1.25"/><circle cx="400.2" cy="170" r="1.25"/><circle cx="401" cy="195.6" r="1.25"/><circle cx="401.6" cy="150" r="1.25"/><circle cx="402.8" cy="240.3" r="1.25"/><circle cx="403.5" cy="200" r="1.25"/><circle cx="405" cy="210" r="1.25"/><circle cx="406.5" cy="200" r="1.25"/><circle cx="408.1" cy="224.7" r="1.25"/><circle cx="408.8" cy="190" r="1.25"/><circle cx="409.4" cy="157" r="1.25"/><circle cx="410" cy="203.7" r="1.25"/><circle cx="410.6" cy="157" r="1.25"/><circle cx="411.3" cy="157" r="1.25"/><circle cx="412" cy="157.5" r="1.25"/><circle cx="412.6" cy="175" r="1.25"/><circle cx="413.5" cy="157" r="1.25"/><circle cx="414.2" cy="186.7" r="1.25"/><circle cx="414.8" cy="170" r="1.25"/><circle cx="415.5" cy="190.3" r="1.25"/><circle cx="416.2" cy="175" r="1.25"/><circle cx="416.6" cy="160" r="1.25"/><circle cx="417" cy="221.8" r="1.25"/><circle cx="417.4" cy="113" r="1.25"/><circle cx="418" cy="117" r="1.25"/><circle cx="418.6" cy="118.3" r="1.25"/><circle cx="419.2" cy="85" r="1.25"/><circle cx="419.6" cy="118" r="1.25"/><circle cx="420.2" cy="91.3" r="1.25"/><circle cx="420.7" cy="118.5" r="1.25"/><circle cx="421.2" cy="129.2" r="1.25"/><circle cx="421.8" cy="119" r="1.25"/><circle cx="422.5" cy="120" r="1.25"/><circle cx="423.2" cy="118" r="1.25"/><circle cx="423.7" cy="85.8" r="1.25"/><circle cx="424.2" cy="119" r="1.25"/><circle cx="424.6" cy="119" r="1.25"/><circle cx="425" cy="120" r="1.25"/><circle cx="425.6" cy="100" r="1.25"/><circle cx="426.3" cy="95" r="1.25"/><circle cx="427" cy="91.7" r="1.25"/><circle cx="427.5" cy="91.7" r="1.25"/><circle cx="427.7" cy="69.5" r="1.25"/><circle cx="428.2" cy="69.9" r="1.25"/><circle cx="428.6" cy="70.6" r="1.25"/><circle cx="429.1" cy="70" r="1.25"/><circle cx="429.5" cy="104" r="1.25"/><circle cx="429.9" cy="70.1" r="1.25"/><circle cx="430.4" cy="70.5" r="1.25"/><circle cx="430.8" cy="70.4" r="1.25"/><circle cx="431.2" cy="69.8" r="1.25"/><circle cx="431.7" cy="69.7" r="1.25"/><circle cx="432.1" cy="70.4" r="1.25"/><circle cx="432.5" cy="70" r="1.25"/><circle cx="433" cy="70.1" r="1.25"/><circle cx="433.4" cy="69.4" r="1.25"/><circle cx="433.8" cy="69.4" r="1.25"/><circle cx="434.3" cy="70" r="1.25"/><circle cx="434.7" cy="104.2" r="1.25"/><circle cx="435.2" cy="69.3" r="1.25"/><circle cx="435.6" cy="70.1" r="1.25"/><circle cx="436" cy="69.7" r="1.25"/><circle cx="436.5" cy="69.9" r="1.25"/><circle cx="436.9" cy="69.1" r="1.25"/><circle cx="437.3" cy="69.9" r="1.25"/><circle cx="437.8" cy="69" r="1.25"/><circle cx="438.2" cy="104.6" r="1.25"/><circle cx="438.6" cy="69.3" r="1.25"/><circle cx="439.1" cy="69.2" r="1.25"/><circle cx="439.5" cy="69.4" r="1.25"/><circle cx="439.9" cy="69.7" r="1.25"/><circle cx="440.4" cy="69" r="1.25"/><circle cx="440.8" cy="68.8" r="1.25"/><circle cx="441.2" cy="69.2" r="1.25"/><circle cx="441.7" cy="68.9" r="1.25"/><circle cx="442.1" cy="104" r="1.25"/><circle cx="442.5" cy="68.7" r="1.25"/><circle cx="443" cy="68.5" r="1.25"/><circle cx="443.4" cy="68.7" r="1.25"/><circle cx="443.8" cy="104.1" r="1.25"/><circle cx="444.3" cy="68.7" r="1.25"/><circle cx="444.7" cy="69.1" r="1.25"/><circle cx="445.1" cy="104.1" r="1.25"/><circle cx="445.6" cy="68.8" r="1.25"/><circle cx="446" cy="68.4" r="1.25"/><circle cx="446.4" cy="68.5" r="1.25"/><circle cx="446.9" cy="103.9" r="1.25"/><circle cx="447.3" cy="68.4" r="1.25"/><circle cx="447.8" cy="68.1" r="1.25"/><circle cx="448.2" cy="104.5" r="1.25"/><circle cx="448.6" cy="68.5" r="1.25"/><circle cx="449.1" cy="68.1" r="1.25"/><circle cx="449.5" cy="68.4" r="1.25"/><circle cx="449.9" cy="104.6" r="1.25"/><circle cx="450.4" cy="67.9" r="1.25"/><circle cx="450.8" cy="68.6" r="1.25"/><circle cx="451.2" cy="104.2" r="1.25"/><circle cx="451.7" cy="68.9" r="1.25"/><circle cx="452.1" cy="69.2" r="1.25"/><circle cx="452.5" cy="68.8" r="1.25"/><circle cx="453" cy="68.9" r="1.25"/><circle cx="453.4" cy="69.1" r="1.25"/><circle cx="453.8" cy="104.7" r="1.25"/><circle cx="454.3" cy="68.7" r="1.25"/><circle cx="454.7" cy="69.2" r="1.25"/><circle cx="455.1" cy="69.1" r="1.25"/><circle cx="455.6" cy="69" r="1.25"/><circle cx="456" cy="68.8" r="1.25"/><circle cx="456.4" cy="68.7" r="1.25"/><circle cx="456.9" cy="68.5" r="1.25"/><circle cx="457.3" cy="104" r="1.25"/><circle cx="457.7" cy="68.5" r="1.25"/><circle cx="458.2" cy="69.1" r="1.25"/><circle cx="458.6" cy="68.7" r="1.25"/><circle cx="459" cy="68.6" r="1.25"/><circle cx="459.5" cy="68.5" r="1.25"/><circle cx="459.9" cy="69.2" r="1.25"/><circle cx="460.4" cy="69.3" r="1.25"/><circle cx="460.8" cy="69.1" r="1.25"/><circle cx="461.2" cy="68.7" r="1.25"/><circle cx="461.7" cy="68.6" r="1.25"/><circle cx="462.1" cy="68.7" r="1.25"/><circle cx="462.5" cy="68.9" r="1.25"/><circle cx="463" cy="68.6" r="1.25"/><circle cx="463.4" cy="68.8" r="1.25"/><circle cx="463.8" cy="68.7" r="1.25"/><circle cx="464.3" cy="69.4" r="1.25"/><circle cx="464.7" cy="69.4" r="1.25"/><circle cx="465.1" cy="68.9" r="1.25"/><circle cx="465.6" cy="68.6" r="1.25"/><circle cx="466" cy="67.8" r="1.25"/><circle cx="466.4" cy="67.1" r="1.25"/><circle cx="466.9" cy="67.2" r="1.25"/><circle cx="467.3" cy="103.9" r="1.25"/><circle cx="467.7" cy="67.2" r="1.25"/><circle cx="468.2" cy="67.3" r="1.25"/><circle cx="468.6" cy="104.3" r="1.25"/><circle cx="469" cy="67" r="1.25"/><circle cx="469.5" cy="67.3" r="1.25"/><circle cx="469.9" cy="66.8" r="1.25"/><circle cx="470.3" cy="67.1" r="1.25"/><circle cx="470.8" cy="66.9" r="1.25"/><circle cx="471.2" cy="70.5" r="1.25"/><circle cx="471.7" cy="70.1" r="1.25"/><circle cx="472.1" cy="70.1" r="1.25"/><circle cx="472.5" cy="70.4" r="1.25"/><circle cx="473" cy="70.3" r="1.25"/><circle cx="473.4" cy="70.7" r="1.25"/><circle cx="473.8" cy="70.6" r="1.25"/><circle cx="474.3" cy="70.9" r="1.25"/><circle cx="474.7" cy="70.8" r="1.25"/><circle cx="475.1" cy="70.8" r="1.25"/><circle cx="475.6" cy="71" r="1.25"/><circle cx="476" cy="70.5" r="1.25"/><circle cx="476.4" cy="70.4" r="1.25"/><circle cx="476.9" cy="71.1" r="1.25"/><circle cx="477.3" cy="70.2" r="1.25"/><circle cx="477.7" cy="70.8" r="1.25"/><circle cx="478.2" cy="70.7" r="1.25"/><circle cx="478.4" cy="69" r="1.25"/><circle cx="478.9" cy="20" r="1.25"/><circle cx="479.4" cy="68.5" r="1.25"/><circle cx="480" cy="69" r="1.25"/><circle cx="480.4" cy="69" r="1.25"/><circle cx="480.8" cy="80" r="1.25"/><circle cx="481.5" cy="103.4" r="1.25"/><circle cx="482.2" cy="95" r="1.25"/><circle cx="482.8" cy="100" r="1.25"/><circle cx="483.5" cy="107.2" r="1.25"/><circle cx="484.1" cy="104" r="1.25"/><circle cx="484.8" cy="80" r="1.25"/><circle cx="485.3" cy="57.6" r="1.25"/><circle cx="485.9" cy="59" r="1.25"/><circle cx="486.5" cy="90" r="1.25"/><circle cx="487" cy="94.5" r="1.25"/><circle cx="487.6" cy="60" r="1.25"/><circle cx="488" cy="60" r="1.25"/><circle cx="488.4" cy="62.2" r="1.25"/><circle cx="488.9" cy="94" r="1.25"/><circle cx="489.5" cy="70" r="1.25"/><circle cx="490.2" cy="88" r="1.25"/><circle cx="490.8" cy="80" r="1.25"/><circle cx="491.4" cy="93" r="1.25"/><circle cx="491.8" cy="93" r="1.25"/><circle cx="492.2" cy="57.6" r="1.25"/><circle cx="492.8" cy="75" r="1.25"/><circle cx="493.4" cy="75" r="1.25"/><circle cx="493.8" cy="92.6" r="1.25"/><circle cx="494.5" cy="60" r="1.25"/><circle cx="495" cy="68" r="1.25"/><circle cx="495.6" cy="82" r="1.25"/><circle cx="496.2" cy="70" r="1.25"/><circle cx="496.8" cy="94" r="1.25"/><circle cx="497.5" cy="80" r="1.25"/><circle cx="498.2" cy="89" r="1.25"/><circle cx="498.8" cy="75" r="1.25"/><circle cx="499.5" cy="80" r="1.25"/><circle cx="500" cy="80" r="1.25"/><circle cx="500.4" cy="57.6" r="1.25"/><circle cx="501" cy="90" r="1.25"/><circle cx="501.7" cy="96" r="1.25"/><circle cx="502.3" cy="88" r="1.25"/><circle cx="503" cy="80" r="1.25"/><circle cx="503.6" cy="90" r="1.25"/><circle cx="504.1" cy="90" r="1.25"/><circle cx="504.5" cy="72.2" r="1.25"/><circle cx="505" cy="106.4" r="1.25"/><circle cx="505.5" cy="72.5" r="1.25"/><circle cx="506" cy="72.2" r="1.25"/><circle cx="506.6" cy="88" r="1.25"/><circle cx="507.2" cy="93" r="1.25"/><circle cx="507.8" cy="96" r="1.25"/><circle cx="508.2" cy="96" r="1.25"/><circle cx="508.6" cy="90" r="1.25"/><circle cx="509.3" cy="105" r="1.25"/><circle cx="510" cy="116" r="1.25"/><circle cx="510.2" cy="110.3" r="1.25"/><circle cx="510.6" cy="119.5" r="1.25"/><circle cx="511.2" cy="108" r="1.25"/><circle cx="511.8" cy="118" r="1.25"/><circle cx="512.3" cy="96" r="1.25"/><circle cx="512.8" cy="110" r="1.25"/><circle cx="513.3" cy="110" r="1.25"/><circle cx="513.7" cy="121" r="1.25"/><circle cx="514.2" cy="112" r="1.25"/><circle cx="514.5" cy="131.7" r="1.25"/><circle cx="515.2" cy="98" r="1.25"/><circle cx="515.8" cy="110" r="1.25"/><circle cx="516.3" cy="100" r="1.25"/><circle cx="517" cy="120" r="1.25"/><circle cx="517.6" cy="118" r="1.25"/><circle cx="518.3" cy="86" r="1.25"/><circle cx="518.8" cy="85" r="1.25"/><circle cx="519.4" cy="119.5" r="1.25"/><circle cx="520" cy="96" r="1.25"/><circle cx="520.6" cy="85" r="1.25"/><circle cx="521.2" cy="120" r="1.25"/><circle cx="521.8" cy="100" r="1.25"/><circle cx="522.5" cy="99.5" r="1.25"/><circle cx="522.9" cy="99.5" r="1.25"/><circle cx="523.3" cy="99.5" r="1.25"/><circle cx="524" cy="115" r="1.25"/><circle cx="524.4" cy="115" r="1.25"/><circle cx="524.8" cy="100" r="1.25"/><circle cx="525.5" cy="134" r="1.25"/><circle cx="526.2" cy="110" r="1.25"/><circle cx="526.6" cy="110" r="1.25"/><circle cx="527" cy="85" r="1.25"/><circle cx="527.5" cy="85" r="1.25"/><circle cx="528" cy="124.8" r="1.25"/><circle cx="528.6" cy="100" r="1.25"/><circle cx="529.2" cy="116" r="1.25"/><circle cx="529.8" cy="114.1" r="1.25"/><circle cx="530.5" cy="114" r="1.25"/><circle cx="531.2" cy="114" r="1.25"/><circle cx="531.6" cy="114" r="1.25"/><circle cx="532" cy="114.1" r="1.25"/><circle cx="532.5" cy="114.1" r="1.25"/><circle cx="532.9" cy="82.7" r="1.25"/><circle cx="533.5" cy="110" r="1.25"/><circle cx="534.1" cy="79" r="1.25"/><circle cx="534.8" cy="114.5" r="1.25"/><circle cx="535.2" cy="114.5" r="1.25"/><circle cx="535.6" cy="116" r="1.25"/><circle cx="536.1" cy="116" r="1.25"/><circle cx="536.5" cy="116.4" r="1.25"/><circle cx="537" cy="116.4" r="1.25"/><circle cx="537.4" cy="116" r="1.25"/><circle cx="537.9" cy="115" r="1.25"/><circle cx="538.4" cy="113" r="1.25"/><circle cx="538.9" cy="75.7" r="1.25"/><circle cx="539.3" cy="111" r="1.25"/><circle cx="539.8" cy="111" r="1.25"/></g>
<path d="M105.9 90.4V112.7M279.1 81.8V112.7M388.9 113V143.5M416.4 113V150" stroke="#ff6060" stroke-width="0.9" fill="none"/>
<polygon points="359.8,112.7 378.6,112.7 378.6,200 377.7,207 375,218 372.4,230 369.7,241 369.5,250 368.8,270 368,280 366.5,285 363.5,290 361.5,293.5 360.3,294 359.8,294" fill="#ff0000"/>
<path d="M361.9 290V324.9M366.5 285V309.4M372.4 230V252.8" stroke="#ff3030" stroke-width="0.8"/>
<polygon points="402.4,112.7 408.2,112.7 408.2,195 406.6,205 405.8,218 404.4,236 403.3,252 402.8,236 402.4,200" fill="#ff0000"/>
<path d="M401.0 113V150M401.7 113V200M408.8 113V230M409.5 113V205" stroke="#ff7070" stroke-width="0.8"/>
<g fill="#ff00ff"><rect x="358.1" y="110.8" width="22.1" height="4" rx="2"/><rect x="387.2" y="110.8" width="3.1" height="4" rx="1.5"/><rect x="399.7" y="110.8" width="10.8" height="4" rx="2"/><rect x="415.3" y="110.8" width="3" height="4" rx="1.5"/><circle cx="20.3" cy="112.8" r="2.3"/><circle cx="105.9" cy="112.8" r="2.3"/><circle cx="279.3" cy="112.8" r="2.3"/></g>
<g font-family="Liberation Serif, serif" font-size="9.5" fill="#202020"><text x="63.5" y="385.3" text-anchor="middle">600</text><text x="150.4" y="385.3" text-anchor="middle">800</text><text x="237.3" y="385.3" text-anchor="middle">1000</text><text x="324.2" y="385.3" text-anchor="middle">1200</text><text x="411.1" y="385.3" text-anchor="middle">1400</text><text x="498" y="385.3" text-anchor="middle">1600</text><text x="16.1" y="12.3" text-anchor="end">10</text><text x="16.1" y="64.3" text-anchor="end">5</text><text x="16.1" y="116.3" text-anchor="end">0</text><text x="16.1" y="168.3" text-anchor="end">-5</text><text x="16.1" y="220.3" text-anchor="end">-10</text><text x="16.1" y="272.3" text-anchor="end">-15</text><text x="16.1" y="324.3" text-anchor="end">-20</text><text x="16.1" y="376.3" text-anchor="end">-25</text></g>
<rect x="147.6" y="162.7" width="133.8" height="179.4" fill="#fff"/>
<rect x="147.6" y="162.7" width="133.8" height="179.4" fill="none" stroke="#8a8a8a" stroke-width="1.3"/>
<path d="M147.6 342.1v-2.5M147.6 162.7v2.5M177.4 342.1v-2.5M177.4 162.7v2.5M207.3 342.1v-2.5M207.3 162.7v2.5M237.2 342.1v-2.5M237.2 162.7v2.5M267 342.1v-2.5M267 162.7v2.5M147.6 192.9h3M281.4 192.9h-3M147.6 222.7h3M281.4 222.7h-3M147.6 252.5h3M281.4 252.5h-3M147.6 282.3h3M281.4 282.3h-3M147.6 312.1h3M281.4 312.1h-3" stroke="#707070" stroke-width="0.9"/>
<path d="M153.3 193V297.5M156.3 193V297.1M159.2 193V296.5M162.2 193V296M165.2 193V314.9M168.2 193V293.5M171.1 193V293M174.1 193V292.5M177.1 193V291.8M180.1 193V291.2M183 193V290.7M186 193V290.2M189 193V289.5M191.9 193V288M194.9 193V288M197.9 193V305.8M200.9 193V303.4M203.8 193V268.6M206.8 193V271.1M209.8 193V287.4M212.8 193V283M215.7 193V260.4M218.7 193V270M221.7 193V268.6M224.7 193V267.6M227.6 193V265.6M230.6 193V264.1M233.6 193V262.9M236.5 193V272.7M239.5 193V246.1M242.5 193V264.5M245.5 193V264.1M248.4 193V261.5M251.4 193V260.9M254.4 193V259.5M257.4 193V258.5M260.3 193V256.6M263.3 193V254M266.3 193V251.4M269.2 193V249.3M272.2 193V227.8M278.2 193V227.8" stroke="#ff8585" stroke-width="1.7" fill="none"/>
<polyline points="147.6,197.6 150.3,208 152.6,265 155.5,193 270,193 272.6,195.2 275.8,247.2 278.5,195.2 281.4,233.8" fill="none" stroke="#3030ff" stroke-width="0.9"/>
<g fill="#0000ff"><circle cx="147.9" cy="197.6" r="1.5"/><circle cx="150.3" cy="208" r="1.3"/><circle cx="152.6" cy="265" r="1.3"/><circle cx="275.8" cy="247.2" r="1.3"/><circle cx="281.2" cy="233.8" r="1.3"/></g>
<g fill="#d820d8"><rect x="152.5" y="191.3" width="127.8" height="3.2" fill="#c830c8"/><circle cx="153.3" cy="192.9" r="1.9"/><circle cx="156.3" cy="192.9" r="1.9"/><circle cx="159.2" cy="192.9" r="1.9"/><circle cx="162.2" cy="192.9" r="1.9"/><circle cx="165.2" cy="192.9" r="1.9"/><circle cx="168.2" cy="192.9" r="1.9"/><circle cx="171.1" cy="192.9" r="1.9"/><circle cx="174.1" cy="192.9" r="1.9"/><circle cx="177.1" cy="192.9" r="1.9"/><circle cx="180.1" cy="192.9" r="1.9"/><circle cx="183" cy="192.9" r="1.9"/><circle cx="186" cy="192.9" r="1.9"/><circle cx="189" cy="192.9" r="1.9"/><circle cx="191.9" cy="192.9" r="1.9"/><circle cx="194.9" cy="192.9" r="1.9"/><circle cx="197.9" cy="192.9" r="1.9"/><circle cx="200.9" cy="192.9" r="1.9"/><circle cx="203.8" cy="192.9" r="1.9"/><circle cx="206.8" cy="192.9" r="1.9"/><circle cx="209.8" cy="192.9" r="1.9"/><circle cx="212.8" cy="192.9" r="1.9"/><circle cx="215.7" cy="192.9" r="1.9"/><circle cx="218.7" cy="192.9" r="1.9"/><circle cx="221.7" cy="192.9" r="1.9"/><circle cx="224.7" cy="192.9" r="1.9"/><circle cx="227.6" cy="192.9" r="1.9"/><circle cx="230.6" cy="192.9" r="1.9"/><circle cx="233.6" cy="192.9" r="1.9"/><circle cx="236.5" cy="192.9" r="1.9"/><circle cx="239.5" cy="192.9" r="1.9"/><circle cx="242.5" cy="192.9" r="1.9"/><circle cx="245.5" cy="192.9" r="1.9"/><circle cx="248.4" cy="192.9" r="1.9"/><circle cx="251.4" cy="192.9" r="1.9"/><circle cx="254.4" cy="192.9" r="1.9"/><circle cx="257.4" cy="192.9" r="1.9"/><circle cx="260.3" cy="192.9" r="1.9"/><circle cx="263.3" cy="192.9" r="1.9"/><circle cx="266.3" cy="192.9" r="1.9"/><circle cx="269.2" cy="192.9" r="1.9"/><circle cx="272.2" cy="192.9" r="1.9"/><circle cx="275.2" cy="192.9" r="1.9"/><circle cx="278.2" cy="192.9" r="1.9"/></g>
<g font-family="Liberation Serif, serif" font-size="9.5" fill="#202020"><text x="147.6" y="355" text-anchor="middle">1280</text><text x="177.4" y="355" text-anchor="middle">1290</text><text x="207.3" y="355" text-anchor="middle">1300</text><text x="237.2" y="355" text-anchor="middle">1310</text><text x="267" y="355" text-anchor="middle">1320</text><text x="144" y="166.4" text-anchor="end">5</text><text x="144" y="196.2" text-anchor="end">0</text><text x="144" y="226" text-anchor="end">-5</text><text x="144" y="255.8" text-anchor="end">-10</text><text x="144" y="285.6" text-anchor="end">-15</text><text x="144" y="315.4" text-anchor="end">-20</text><text x="144" y="345.2" text-anchor="end">-25</text></g>
<text x="318.3" y="60.3" font-family="Liberation Serif, serif" font-size="9.5" fill="#202020">thruster inhaled cloth strips</text>
<path d="M367.4 65.0L361.3 99.4" stroke="#1a1a1a" stroke-width="1"/><polygon points="360.3,104.9 358.7,96.9 361.3,99.4 364.6,97.9" fill="#111"/>
<path d="M394.1 65.0L399.6 99.4" stroke="#1a1a1a" stroke-width="1"/><polygon points="400.5,104.9 396.3,97.9 399.6,99.4 402.3,96.9" fill="#111"/>
<path d="M299.8 212.6L340.0 176.4" stroke="#1a1a1a" stroke-width="1"/><polygon points="344.2,172.7 340.6,180.0 340.0,176.4 336.5,175.5" fill="#111"/>
<rect x="354.9" y="13.5" width="179.4" height="26.7" fill="#fff" stroke="#666" stroke-width="1"/>
<path d="M357.1 21H381" stroke="#5a5aff" stroke-width="1.2"/><circle cx="369.4" cy="21" r="1.3" fill="#0000ff"/>
<path d="M357.1 33.3H381" stroke="#ff5a5a" stroke-width="1.2"/>
<g font-family="Liberation Serif, serif" font-size="9.5" fill="#202020"><text x="382.8" y="24.3">residual of the currently enabled model</text><text x="382.8" y="36.6">residual of the new-built model</text></g>
</svg>
</body></html>
